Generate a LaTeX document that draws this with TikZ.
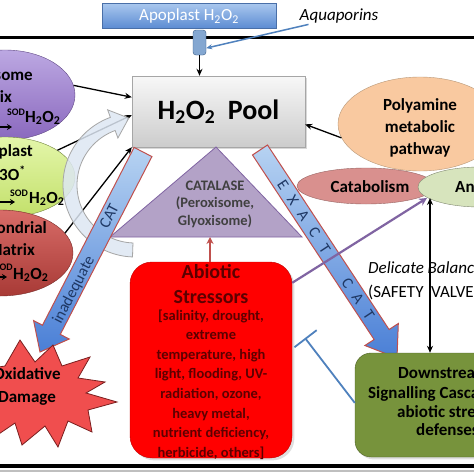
\documentclass[tikz,border=0pt]{standalone}
\usepackage{fontspec}
\setmainfont{Carlito}
\usetikzlibrary{arrows.meta,shapes.geometric,calc,shadows}
\newcommand{\hto}{H\textsubscript{2}O\textsubscript{2}}
\definecolor{apoA}{HTML}{A9C7EE}
\definecolor{apoB}{HTML}{5B8BD2}
\definecolor{bandA}{HTML}{B7D3F2}
\definecolor{bandB}{HTML}{4A7FD6}
\definecolor{bandborder}{HTML}{C0504D}
\definecolor{bandtext}{HTML}{1F3864}
\definecolor{cat}{HTML}{B3A2C7}
\definecolor{catborder}{HTML}{8064A2}
\definecolor{abio}{HTML}{FF0000}
\definecolor{abioborder}{HTML}{C00000}
\definecolor{abiotext}{HTML}{5C0000}
\definecolor{poly}{HTML}{F9C9A0}
\definecolor{polyborder}{HTML}{B89878}
\definecolor{catab}{HTML}{D9908E}
\definecolor{anab}{HTML}{D7E4BD}
\definecolor{down}{HTML}{77933C}
\definecolor{downborder}{HTML}{4F6228}
\definecolor{purpA}{HTML}{BCA8E2}
\definecolor{purpB}{HTML}{8A68BE}
\definecolor{greenA}{HTML}{E4F6AA}
\definecolor{greenB}{HTML}{C2E06A}
\definecolor{redA}{HTML}{D86C68}
\definecolor{redB}{HTML}{A83A36}
\definecolor{starc}{HTML}{F04E4E}
\definecolor{starborder}{HTML}{7A1F1F}
\definecolor{tbar}{HTML}{4F81BD}
\definecolor{purpline}{HTML}{8064A2}
\definecolor{redarrow}{HTML}{C0504D}
\definecolor{curvA}{HTML}{DDE7F3}
\definecolor{curvB}{HTML}{B9C8D8}
\tikzset{
  lbl/.style={font=\fontsize{17}{20}\selectfont\bfseries, inner sep=0pt},
  small/.style={font=\fontsize{10}{11}\selectfont\bfseries, inner sep=0pt},
  conn/.style={-{Stealth[length=7pt,width=6pt]}, line width=1.3pt},
  bandtxt/.style={font=\fontsize{16}{18}\selectfont, text=bandtext, inner sep=0pt},
  bandshape/.style={top color=bandA, bottom color=bandB, draw=bandborder, line width=1pt},
}
\begin{document}
\begin{tikzpicture}[x=1pt,y=-1pt]
\useasboundingbox (0,0) rectangle (474,474);
\clip (0,0) rectangle (474,474);
\fill[white] (0,0) rectangle (474,474);
% frame lines
\draw[line width=3pt] (0,37) -- (474,37);
\draw[gray!50, line width=2pt] (0,470.5) -- (474,470.5);
\draw[line width=3.5pt] (0,466) -- (474,466);
% apoplast
\node[draw=apoB!80!black, top color=apoA, bottom color=apoB, minimum width=174pt, minimum height=25pt, inner sep=0pt, font=\fontsize{17}{20}\selectfont, text=white] (apo) at (189,16) {Apoplast \hto};
\node[font=\fontsize{17}{20}\selectfont\itshape, inner sep=1pt] (aqua) at (339,16) {Aquaporins};
\node[draw=tbar!70!black, fill=tbar!70, rounded corners=3pt, minimum width=13pt, minimum height=25pt, inner sep=0pt] (aquap) at (199.5,42.5) {};
\draw[tbar, line width=1.5pt, -{Stealth[length=6pt,width=5pt]}] ([xshift=10pt]aqua.south west) -- (aquap.-40);
% left ellipses
\node[ellipse, draw=purpB!70!black, top color=purpA, bottom color=purpB, minimum width=140pt, minimum height=90pt] (perox) at (5,95) {};
\node[ellipse, draw=greenB!60!black, top color=greenA, bottom color=greenB, minimum width=140pt, minimum height=80pt] (chloro) at (5,177) {};
\node[ellipse, draw=redB!70!black, top color=redA, bottom color=redB, minimum width=146pt, minimum height=86pt] (mito) at (0,253) {};
\node[lbl, anchor=east] (pt1) at (33,75) {Peroxisome};
\node[lbl, anchor=east] (pt2) at (12,97) {Matrix};
\node[small, anchor=west] (pt3) at (7,112) {SOD};
\node[lbl, anchor=west] (pt4) at (25,118) {\hto};
\coordinate (pa1) at (-12,127); \coordinate (pa2) at (12,127);
\draw[line width=2pt, -{Stealth[length=5pt,width=6pt]}] (pa1) -- (pa2);
\node[lbl, anchor=east] (ct1) at (33,152) {Chloroplast};
\node[lbl, anchor=west] (ct2) at (-1,173) {3O\textsuperscript{*}};
\node[small, anchor=west] (ct3) at (10,193) {SOD};
\node[lbl, anchor=west] (ct4) at (29,199) {\hto};
\coordinate (ca1) at (-10,202); \coordinate (ca2) at (15,202);
\draw[line width=2pt, -{Stealth[length=5pt,width=6pt]}] (ca1) -- (ca2);
\node[lbl, anchor=east] (mt1) at (47,228) {Mitochondrial};
\node[lbl, anchor=east] (mt2) at (35,250) {Matrix};
\node[small, anchor=east] (mt3) at (13,267) {SOD};
\node[lbl, anchor=west] (mt4) at (13,275) {\hto};
\coordinate (ma1) at (-15,277); \coordinate (ma2) at (7,277);
\draw[line width=2pt, -{Stealth[length=5pt,width=6pt]}] (ma1) -- (ma2);
% pool
\node[draw=gray!70, top color=gray!6, bottom color=gray!40, minimum width=173pt, minimum height=71pt, inner sep=0pt, font=\fontsize{28}{32}\selectfont\bfseries, drop shadow={opacity=0.3}] (pool) at (218.5,111.5) {\hto\ \ Pool};
\draw[conn] (aquap.south) -- (aquap.south |- pool.north);
\draw[conn] (perox.8) -- ($(pool.north west)!0.3!(pool.south west)$);
\draw[conn] (chloro.27) -- ($(pool.north west)!0.55!(pool.south west)$);
\draw[conn] (mito.17) -- (pool.south west);
% curved arrow
\filldraw[fill=curvA, draw=gray!70, line width=0.8pt, fill opacity=0.85]
  plot[domain=92:250,samples=50] ({135+72*cos(\x)},{185+72*sin(\x)})
  -- ({135+80*cos(250)},{185+80*sin(250)}) -- (128.8,118.1)
  -- ({135+50*cos(250)},{185+50*sin(250)})
  -- plot[domain=250:92,samples=50] ({135+58*cos(\x)},{185+58*sin(\x)}) -- cycle;
% catalase triangle
\coordinate (tA) at (216,147); \coordinate (tB) at (302,237); \coordinate (tC) at (110,237);
\filldraw[fill=cat, draw=catborder, line width=0.8pt] (tA) -- (tB) -- (tC) -- cycle;
\node[font=\fontsize{14.5}{17.5}\selectfont\bfseries, text=black!75, align=center, inner sep=0pt] (catal) at (215,204) {CATALASE\\(Peroxisome,\\Glyoxisome)};
% bands
\shadedraw[bandshape] (134.1,147.4) -- (42.5,325.2) -- (33.6,320.6) -- (40,352) -- (69.2,339.0) -- (60.3,334.4) -- (151.9,156.6) -- cycle;
\node[bandtxt, rotate=62.7] (inad) at (74,290) {inadequate};
\node[bandtxt, rotate=62.7] (cat1) at (109,216) {CAT};
\shadedraw[bandshape] (252.5,155.0) -- (374.1,339.5) -- (364.9,345.5) -- (397,358) -- (398.3,323.5) -- (389.1,329.5) -- (267.5,145.0) -- cycle;
\foreach \px/\py/\ch [count=\i] in {283.1/185.1/E, 293/200.1/X, 303.5/216.0/A, 314.5/232.7/C, 324.9/248.5/T, 347.5/282.8/C, 357.9/298.6/A, 368.9/315.3/T}
  \node[bandtxt, rotate=-56.6] (ex\i) at (\px,\py) {\ch};
% abiotic
\node[draw=abioborder, fill=abio, rounded corners=22pt, minimum width=162pt, minimum height=196pt, drop shadow={opacity=0.25}] (abio) at (211,360) {};
\node[font=\fontsize{20}{25}\selectfont\bfseries, text=abiotext, align=center, inner sep=0pt] (abt) at (211,284.5) {Abiotic\\Stressors};
\node[font=\fontsize{14.5}{19.57}\selectfont\bfseries, text=abiotext, align=center, inner sep=0pt] (abl) at (211,384.5) {[salinity, drought,\\extreme\\temperature, high\\light, flooding, UV-\\radiation, ozone,\\heavy metal,\\nutrient deficiency,\\herbicide, others]};
\coordinate (catBase) at (210,237);
\draw[redarrow, line width=2pt, -{Stealth[length=7pt,width=7pt]}] (abio.north -| catBase) -- (catBase);
% right ellipses
\node[ellipse, draw=polyborder, fill=poly, minimum width=164pt, minimum height=94pt] (poly) at (420,124) {};
\node[lbl, align=center, font=\fontsize{17}{22}\selectfont\bfseries] (polyt) at (420,128) {Polyamine\\metabolic\\pathway};
\draw[conn] (poly.190) -- ($(pool.north east)!0.68!(pool.south east)$);
\node[ellipse, draw=catab!70!black, fill=catab, minimum width=138pt, minimum height=36pt] (catab) at (366,186) {};
\node[lbl] (catabt) at (370,187) {Catabolism};
\node[ellipse, draw=anab!60!black, fill=anab, minimum width=124pt, minimum height=40pt] (anab) at (480,187) {};
\node[lbl, anchor=west] (anabt) at (455,187) {Anabolism};
% downstream
\node[draw=downborder, fill=down, rounded corners=16pt, minimum width=150pt, minimum height=104pt, drop shadow={opacity=0.25}] (down) at (430,405) {};
\node[lbl, anchor=west] (dt1) at (398,373) {Downstream};
\node[lbl, anchor=west] (dt2) at (368,394) {Signalling Cascade for};
\node[lbl, anchor=west] (dt3) at (397,412) {abiotic stress};
\node[lbl, anchor=west] (dt4) at (416,430) {defenses};
% balance
\coordinate (balTop) at (430,198);
\draw[line width=1.3pt, {Stealth[length=7pt,width=6pt]}-{Stealth[length=7pt,width=6pt]}] (balTop) -- (balTop |- down.north);
\node[anchor=west, font=\fontsize{17}{20}\selectfont\itshape, inner sep=0pt] (bal) at (368,268) {Delicate Balance};
\node[anchor=west, font=\fontsize{17}{20}\selectfont, inner sep=0pt] (safe) at (368,292) {(SAFETY\ \ VALVE)};
\draw[purpline, line width=2.2pt, -{Stealth[length=8pt,width=8pt]}] ($(abio.north east)!0.107!(abio.south east)$) -- ([xshift=-3pt]balTop);
% inhibition
\coordinate (tEnd) at (305,338);
\draw[tbar, line width=1.8pt, -{Bar[width=28pt]}] ($(down.north west)!0.48!(down.south west)$) -- (tEnd);
% oxidative damage
\filldraw[fill=starc, draw=starborder, line width=0.8pt]
 (20,340) -- (35,362) -- (53,345) -- (62,366) -- (90,357) -- (78,378) -- (105,382) -- (86,393) -- (117,402) -- (88,410) -- (92,432) -- (68,421) -- (58,447) -- (45,426) -- (22,445) -- (15,423) -- (-10,440) -- (-5,400) -- (-20,370) -- (5,366) -- cycle;
\node[lbl, align=center, font=\fontsize{17}{23}\selectfont\bfseries] (oxd) at (27,386.5) {Oxidative\\Damage};
\end{tikzpicture}
\end{document}
